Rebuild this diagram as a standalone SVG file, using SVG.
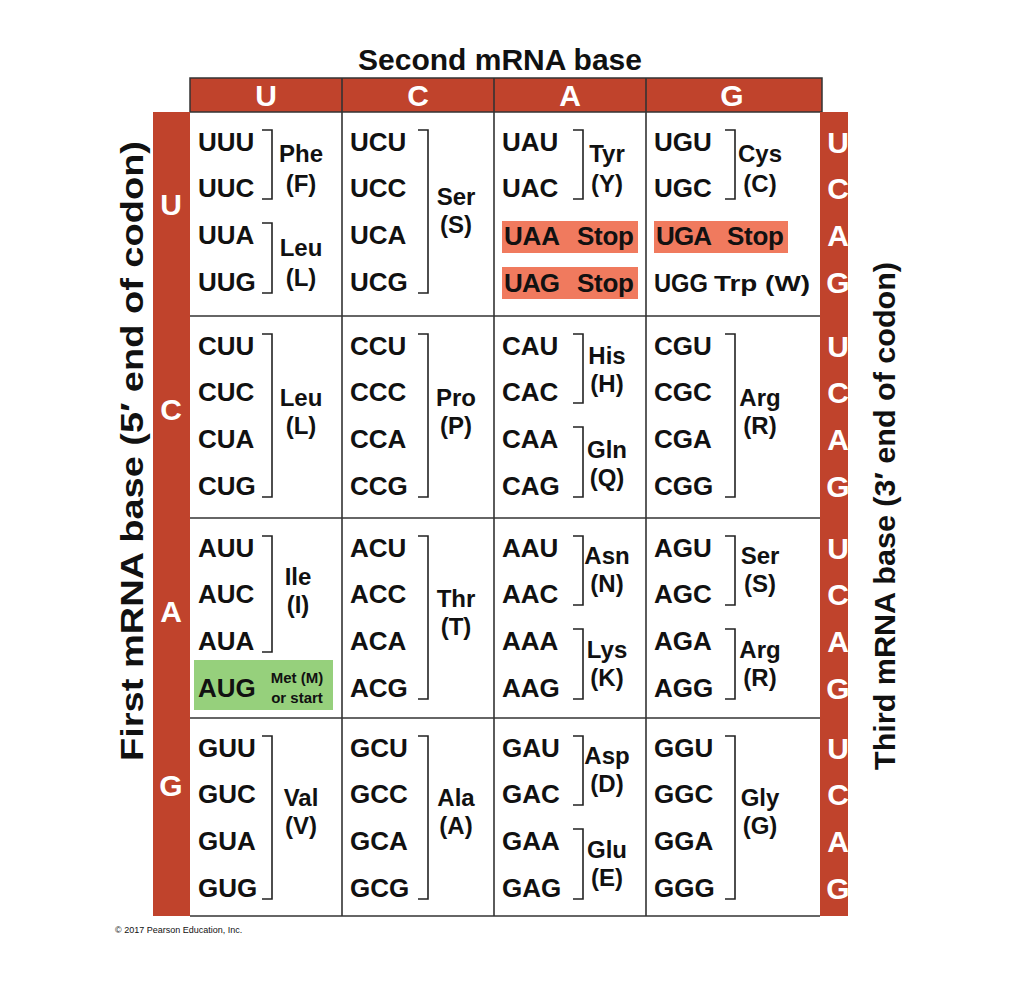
<svg xmlns="http://www.w3.org/2000/svg" width="1024" height="1003" viewBox="0 0 1024 1003">
<style>
text{font-family:"Liberation Sans",Arial,sans-serif;font-weight:bold;fill:#111}
.c{font-size:26px}
.a{font-size:24px;text-anchor:middle}
.h{font-size:30px;fill:#fff;text-anchor:middle}
.t{font-size:30px;text-anchor:middle}
.br{fill:none;stroke:#222;stroke-width:1.6}
.ln{stroke:#333;stroke-width:1.6}
.red{fill:#c0432c}
</style>
<rect width="1024" height="1003" fill="#fff"/>
<g id="titles">
<text class="t" x="500" y="70">Second mRNA base</text>
<text class="t" transform="translate(143,451) rotate(-90)" style="font-size:31px" textLength="620" lengthAdjust="spacingAndGlyphs">First mRNA base  (5′ end of codon)</text>
<text class="t" transform="translate(895,516) rotate(-90)" textLength="508" lengthAdjust="spacingAndGlyphs">Third mRNA base  (3′ end of codon)</text>
<text x="115" y="933" style="font-size:9px;font-weight:normal">© 2017 Pearson Education, Inc.</text>
</g>
<g id="bars">
<rect class="red" x="190" y="78" width="632" height="34" stroke="#333" stroke-width="1.5"/>
<rect class="red" x="153" y="112" width="37" height="804"/>
<rect class="red" x="820" y="112" width="28" height="804"/>
<text class="h" x="266" y="106">U</text><text class="h" x="418" y="106">C</text><text class="h" x="570" y="106">A</text><text class="h" x="732" y="106">G</text>
<text class="h" x="171" y="215">U</text><text class="h" x="171" y="420">C</text><text class="h" x="171" y="622">A</text><text class="h" x="171" y="796">G</text>
<text class="h" x="838" y="153">U</text><text class="h" x="838" y="199">C</text><text class="h" x="838" y="246">A</text><text class="h" x="838" y="293">G</text>
<text class="h" x="838" y="357">U</text><text class="h" x="838" y="403">C</text><text class="h" x="838" y="450">A</text><text class="h" x="838" y="497">G</text>
<text class="h" x="838" y="559">U</text><text class="h" x="838" y="605">C</text><text class="h" x="838" y="652">A</text><text class="h" x="838" y="699">G</text>
<text class="h" x="838" y="759">U</text><text class="h" x="838" y="805">C</text><text class="h" x="838" y="852">A</text><text class="h" x="838" y="899">G</text>
</g>
<g id="grid">
<line class="ln" x1="342" y1="78" x2="342" y2="916"/><line class="ln" x1="494" y1="78" x2="494" y2="916"/><line class="ln" x1="646" y1="78" x2="646" y2="916"/>
<line class="ln" x1="190" y1="316" x2="820" y2="316"/><line class="ln" x1="190" y1="518" x2="820" y2="518"/><line class="ln" x1="190" y1="718" x2="820" y2="718"/><line class="ln" x1="190" y1="916" x2="820" y2="916"/>
</g>
<g id="highlights">
<rect x="502" y="221" width="136" height="32" fill="#f07a5e"/>
<rect x="502" y="267" width="136" height="32" fill="#f07a5e"/>
<rect x="654" y="221" width="134" height="32" fill="#f07a5e"/>
<rect x="194" y="660" width="139" height="50" fill="#96d07c"/>
</g>
<g id="block-U">
<text class="c" x="198" y="151">UUU</text><text class="c" x="198" y="197">UUC</text><text class="c" x="198" y="244">UUA</text><text class="c" x="198" y="291">UUG</text>
<path class="br" d="M262 130H272V199H262M262 223H272V293H262"/>
<text class="a" x="301" y="162">Phe</text><text class="a" x="301" y="192">(F)</text>
<text class="a" x="301" y="256">Leu</text><text class="a" x="301" y="286">(L)</text>
<text class="c" x="350" y="151">UCU</text><text class="c" x="350" y="197">UCC</text><text class="c" x="350" y="244">UCA</text><text class="c" x="350" y="291">UCG</text>
<path class="br" d="M418 130H428V293H418"/>
<text class="a" x="456" y="205">Ser</text><text class="a" x="456" y="233">(S)</text>
<text class="c" x="502" y="151">UAU</text><text class="c" x="502" y="197">UAC</text><text class="c" x="504" y="245" textLength="56">UAA</text><text class="c" x="504" y="292" textLength="56">UAG</text>
<text class="c" x="577" y="245" textLength="57">Stop</text><text class="c" x="577" y="292" textLength="57">Stop</text>
<path class="br" d="M573 130H583V199H573"/>
<text class="a" x="607" y="162">Tyr</text><text class="a" x="607" y="192">(Y)</text>
<text class="c" x="654" y="151">UGU</text><text class="c" x="654" y="197">UGC</text><text class="c" x="656" y="245" textLength="56">UGA</text><text class="c" x="654" y="292" textLength="54" lengthAdjust="spacingAndGlyphs">UGG</text>
<text class="c" x="727" y="245" textLength="57">Stop</text><text x="714" y="291" style="font-size:22px" textLength="96" lengthAdjust="spacingAndGlyphs">Trp (W)</text>
<path class="br" d="M725 130H735V199H725"/>
<text class="a" x="760" y="162">Cys</text><text class="a" x="760" y="192">(C)</text>
</g>
<g id="block-C">
<text class="c" x="198" y="355">CUU</text><text class="c" x="198" y="401">CUC</text><text class="c" x="198" y="448">CUA</text><text class="c" x="198" y="495">CUG</text>
<path class="br" d="M262 334H272V497H262"/>
<text class="a" x="301" y="406">Leu</text><text class="a" x="301" y="434">(L)</text>
<text class="c" x="350" y="355">CCU</text><text class="c" x="350" y="401">CCC</text><text class="c" x="350" y="448">CCA</text><text class="c" x="350" y="495">CCG</text>
<path class="br" d="M418 334H428V497H418"/>
<text class="a" x="456" y="406">Pro</text><text class="a" x="456" y="434">(P)</text>
<text class="c" x="502" y="355">CAU</text><text class="c" x="502" y="401">CAC</text><text class="c" x="502" y="448">CAA</text><text class="c" x="502" y="495">CAG</text>
<path class="br" d="M573 334H583V403H573M573 427H583V497H573"/>
<text class="a" x="607" y="364">His</text><text class="a" x="607" y="392">(H)</text>
<text class="a" x="607" y="458">Gln</text><text class="a" x="607" y="486">(Q)</text>
<text class="c" x="654" y="355">CGU</text><text class="c" x="654" y="401">CGC</text><text class="c" x="654" y="448">CGA</text><text class="c" x="654" y="495">CGG</text>
<path class="br" d="M725 334H735V497H725"/>
<text class="a" x="760" y="406">Arg</text><text class="a" x="760" y="434">(R)</text>
</g>
<g id="block-A">
<text class="c" x="198" y="557">AUU</text><text class="c" x="198" y="603">AUC</text><text class="c" x="198" y="650">AUA</text>
<text class="c" x="198" y="697">AUG</text>
<text x="297" y="683" style="font-size:15px;text-anchor:middle">Met (M)</text><text x="297" y="703" style="font-size:15px;text-anchor:middle">or start</text>
<path class="br" d="M262 536H272V652H262"/>
<text class="a" x="298" y="585">Ile</text><text class="a" x="298" y="613">(I)</text>
<text class="c" x="350" y="557">ACU</text><text class="c" x="350" y="603">ACC</text><text class="c" x="350" y="650">ACA</text><text class="c" x="350" y="697">ACG</text>
<path class="br" d="M418 536H428V699H418"/>
<text class="a" x="456" y="607">Thr</text><text class="a" x="456" y="635">(T)</text>
<text class="c" x="502" y="557">AAU</text><text class="c" x="502" y="603">AAC</text><text class="c" x="502" y="650">AAA</text><text class="c" x="502" y="697">AAG</text>
<path class="br" d="M573 536H583V605H573M573 629H583V699H573"/>
<text class="a" x="607" y="564">Asn</text><text class="a" x="607" y="592">(N)</text>
<text class="a" x="607" y="658">Lys</text><text class="a" x="607" y="686">(K)</text>
<text class="c" x="654" y="557">AGU</text><text class="c" x="654" y="603">AGC</text><text class="c" x="654" y="650">AGA</text><text class="c" x="654" y="697">AGG</text>
<path class="br" d="M725 536H735V605H725M725 629H735V699H725"/>
<text class="a" x="760" y="564">Ser</text><text class="a" x="760" y="592">(S)</text>
<text class="a" x="760" y="658">Arg</text><text class="a" x="760" y="686">(R)</text>
</g>
<g id="block-G">
<text class="c" x="198" y="757">GUU</text><text class="c" x="198" y="803">GUC</text><text class="c" x="198" y="850">GUA</text><text class="c" x="198" y="897">GUG</text>
<path class="br" d="M262 736H272V899H262"/>
<text class="a" x="301" y="806">Val</text><text class="a" x="301" y="834">(V)</text>
<text class="c" x="350" y="757">GCU</text><text class="c" x="350" y="803">GCC</text><text class="c" x="350" y="850">GCA</text><text class="c" x="350" y="897">GCG</text>
<path class="br" d="M418 736H428V899H418"/>
<text class="a" x="456" y="806">Ala</text><text class="a" x="456" y="834">(A)</text>
<text class="c" x="502" y="757">GAU</text><text class="c" x="502" y="803">GAC</text><text class="c" x="502" y="850">GAA</text><text class="c" x="502" y="897">GAG</text>
<path class="br" d="M573 736H583V805H573M573 829H583V899H573"/>
<text class="a" x="607" y="764">Asp</text><text class="a" x="607" y="792">(D)</text>
<text class="a" x="607" y="858">Glu</text><text class="a" x="607" y="886">(E)</text>
<text class="c" x="654" y="757">GGU</text><text class="c" x="654" y="803">GGC</text><text class="c" x="654" y="850">GGA</text><text class="c" x="654" y="897">GGG</text>
<path class="br" d="M725 736H735V899H725"/>
<text class="a" x="760" y="806">Gly</text><text class="a" x="760" y="834">(G)</text>
</g>
</svg>
